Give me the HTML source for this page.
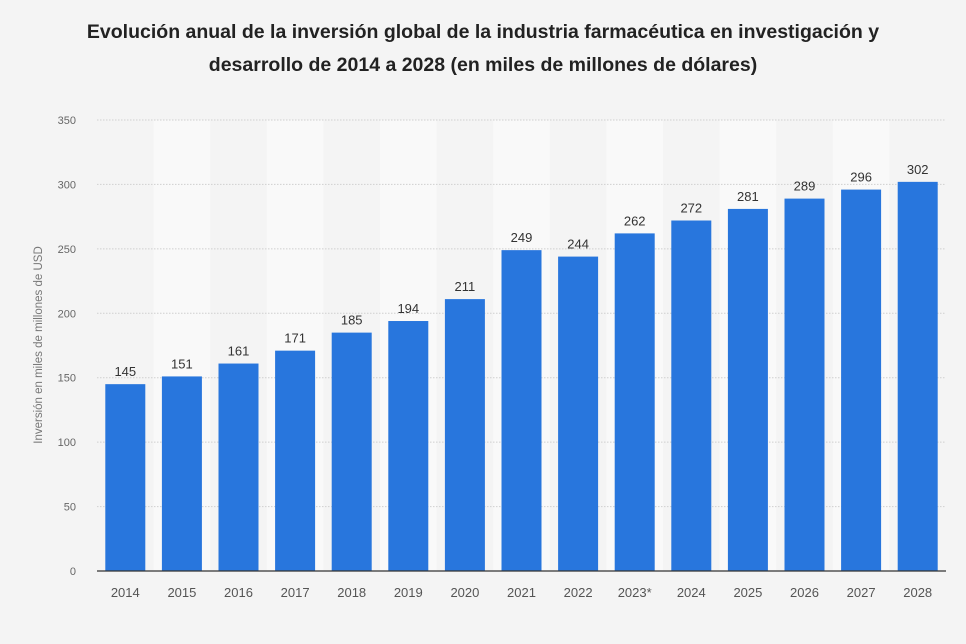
<!DOCTYPE html>
<html><head><meta charset="utf-8"><style>
body{margin:0;background:#f4f4f4;font-family:"Liberation Sans",Arial,sans-serif;}
#wrap{position:relative;width:966px;height:644px;}
h1{position:absolute;top:16px;left:0;width:966px;margin:0;text-align:center;font-size:19.5px;line-height:33px;font-weight:bold;color:#222;}
</style></head><body>
<div id="wrap">
<h1>Evolución anual de la inversión global de la industria farmacéutica en investigación y<br>desarrollo de 2014 a 2028 (en miles de millones de dólares)</h1>
<svg id="chart" width="966" height="644" style="position:absolute;left:0;top:0"></svg>
</div>
<script>
const categories=["2014","2015","2016","2017","2018","2019","2020","2021","2022","2023*","2024","2025","2026","2027","2028"];
const values=[145,151,161,171,185,194,211,249,244,262,272,281,289,296,302];
const yTicks=[0,50,100,150,200,250,300,350];
const svg=document.getElementById('chart');
const NS='http://www.w3.org/2000/svg';
const L=97,R=946,T=120,B=571,YMAX=350;
const slot=(R-L)/categories.length;
const y=v=>B-(v/YMAX)*(B-T);
const xc=i=>L+slot*(i+0.5);
function mk(t,a){const e=document.createElementNS(NS,t);for(const k in a)e.setAttribute(k,a[k]);svg.appendChild(e);return e;}
categories.forEach((c,i)=>{if(i%2===1){const e=mk('rect',{x:L+slot*i,y:T,width:slot,height:B-T,fill:'#f9f9f9'});

}});
yTicks.forEach(v=>{
 if(v>0){const g=mk('line',{x1:L,x2:R,y1:y(v),y2:y(v),stroke:'#cfcfcf','stroke-dasharray':'1.5,1.5'});
 
 }
 const t=mk('text',{x:76,y:y(v)+4,'text-anchor':'end','font-size':'11',fill:'#666'});t.textContent=v;
 
 
});
categories.forEach((c,i)=>{
 const bw=40;
 const r=mk('rect',{x:xc(i)-bw/2,y:y(values[i]),width:bw,height:B-y(values[i]),fill:'#2876dd'});
 
 
 const lt=mk('text',{x:xc(i),y:y(values[i])-8,'text-anchor':'middle','font-size':'13',fill:'#333'});lt.textContent=values[i];
 
 
 const xt=mk('text',{x:xc(i),y:597,'text-anchor':'middle','font-size':'13',fill:'#555'});xt.textContent=c;
 
 
});
const ax=mk('line',{x1:L,x2:R,y1:B,y2:B,stroke:'#333','stroke-width':1.2});


const yt=mk('text',{x:0,y:0,transform:'translate(42,345) rotate(-90)','text-anchor':'middle','font-size':'11.5',fill:'#777'});
yt.textContent='Inversión en miles de millones de USD';


</script>
</body></html>
